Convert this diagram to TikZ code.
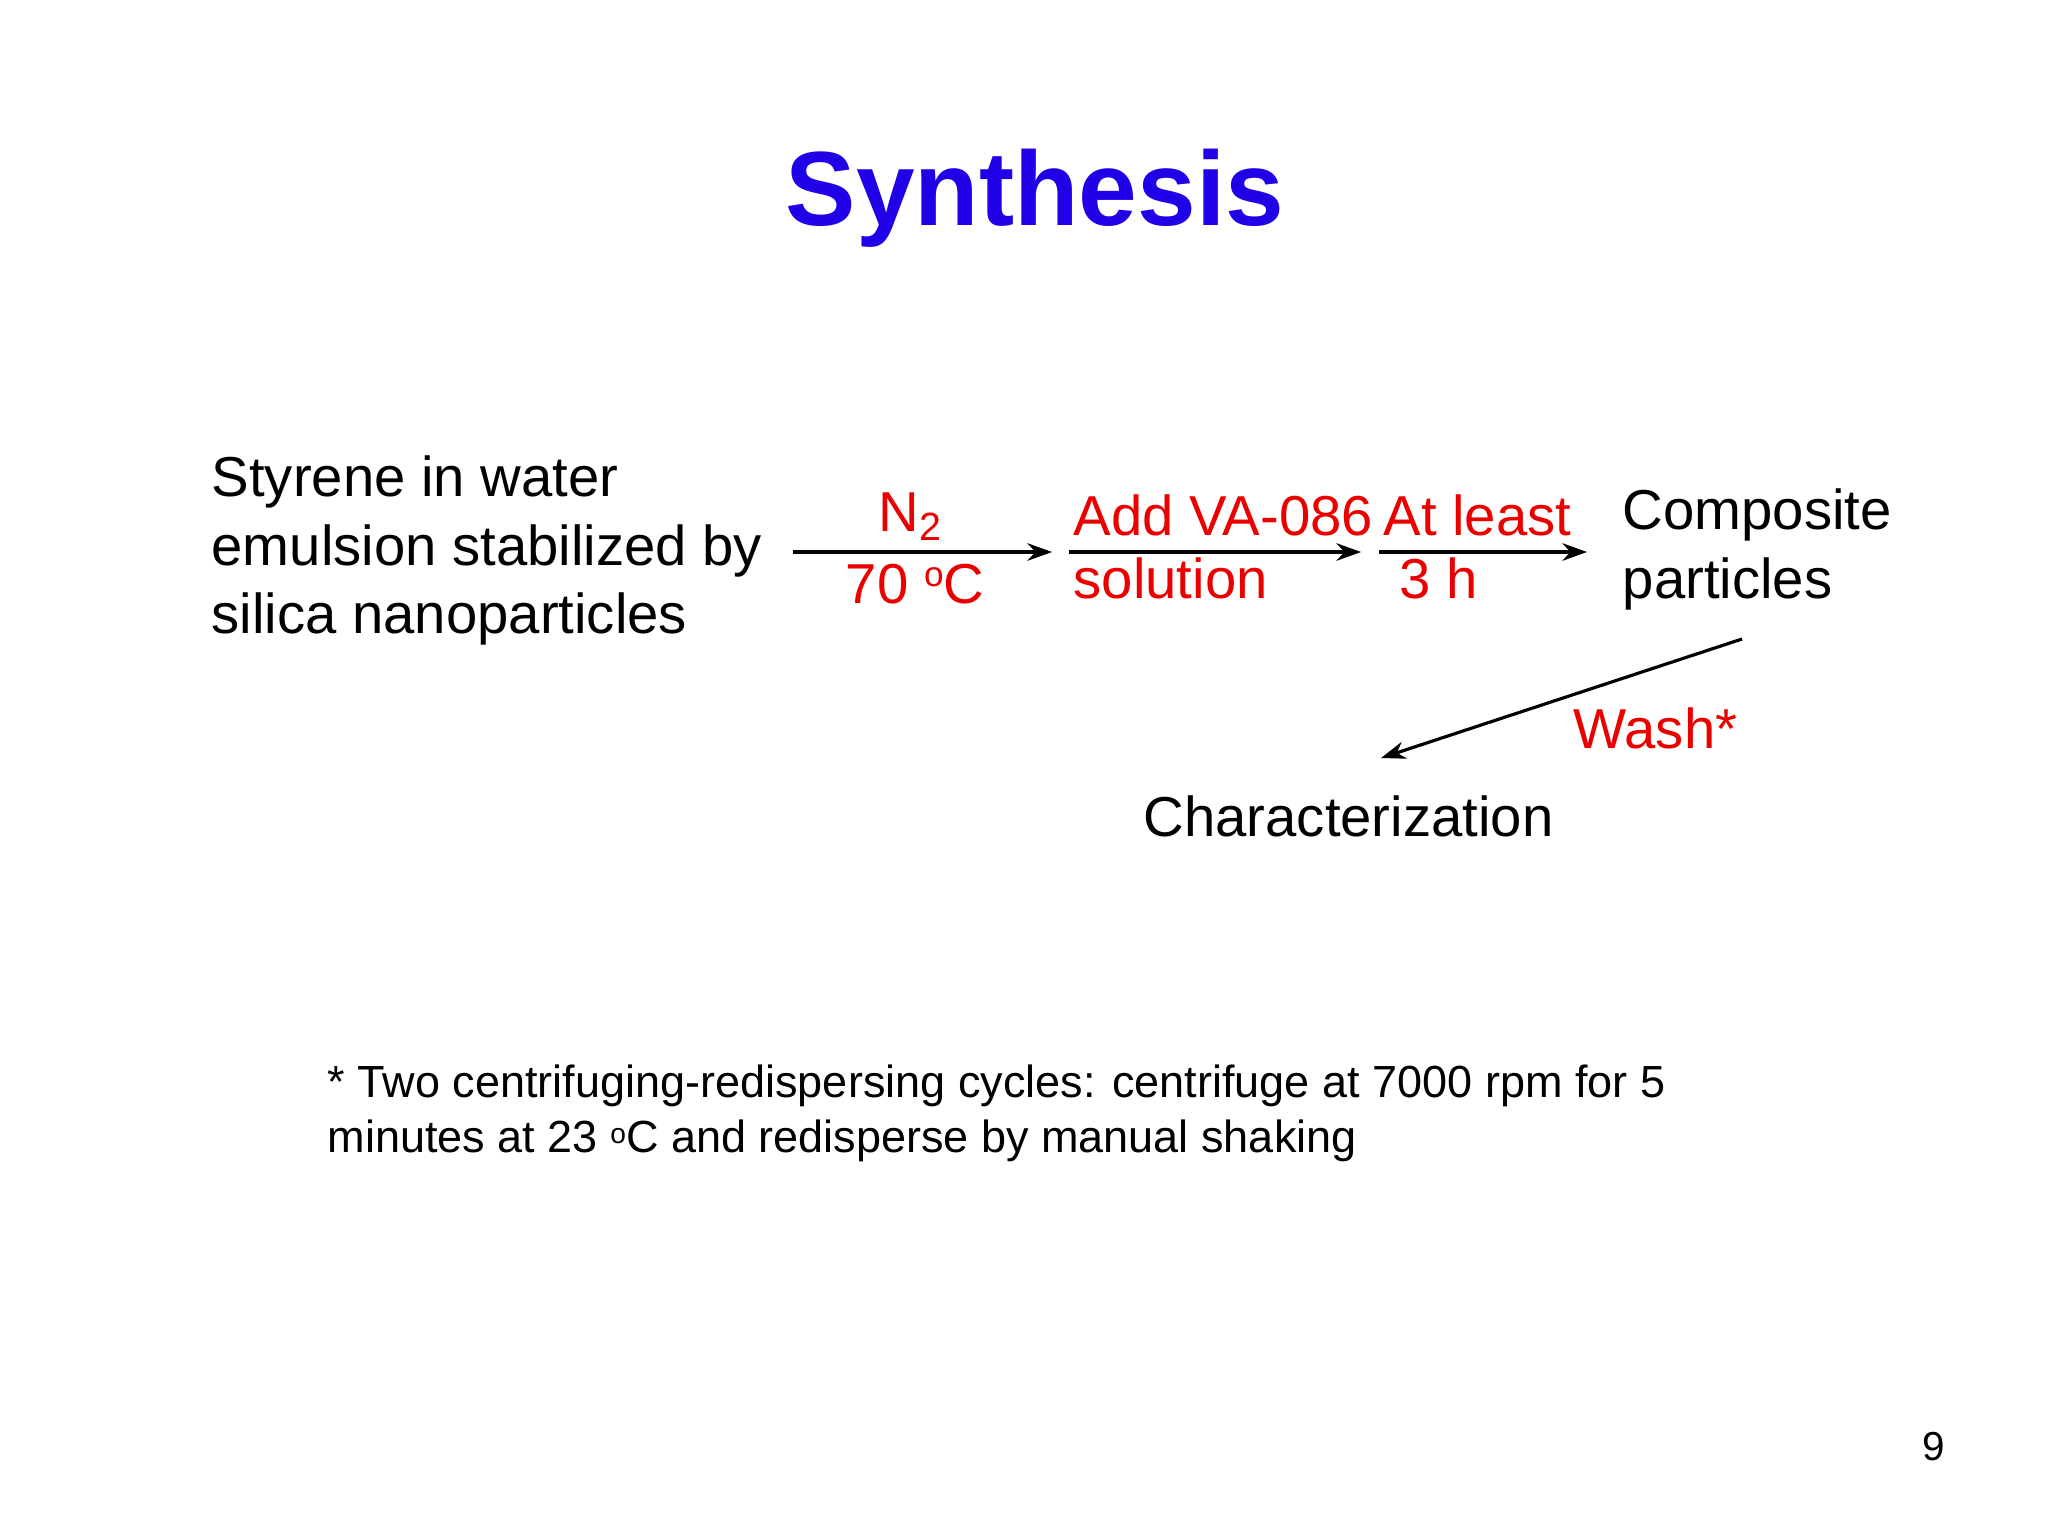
\documentclass[tikz,border=0pt]{standalone}
\usepackage{fontspec}
\setmainfont{Liberation Sans}
\usetikzlibrary{arrows.meta}
\definecolor{ttl}{RGB}{32,0,230}
\definecolor{rd}{RGB}{235,0,0}
\newcommand{\degsup}{\raisebox{0.55ex}{\fontsize{10}{10}\selectfont o}}
\tikzset{
 body/.style={font=\fontsize{16}{19}\selectfont,inner sep=0pt,anchor=base west,align=left},
 lab/.style={body,text=rd},
 arr/.style={line width=0.9pt,-{Stealth[length=7pt,width=5pt]}}
}
\begin{document}
\begin{tikzpicture}[x=0.01cm,y=-0.01cm]
\useasboundingbox[fill=white] (0,0) rectangle (2048,1536);
\node[inner sep=0pt,anchor=base,text=ttl,font=\fontsize{30}{34}\selectfont\bfseries] (title) at (1035,225) {Synthesis};
\node[body] (s1) at (211,496) {Styrene in water};
\node[body] (s2) at (211,565) {emulsion stabilized by};
\node[body] (s3) at (211,633) {silica nanoparticles};
\coordinate (a1s) at (793,552); \coordinate (a1e) at (1052,552);
\coordinate (a2s) at (1069,552); \coordinate (a2e) at (1361,552);
\coordinate (a3s) at (1379,552); \coordinate (a3e) at (1587,552);
\draw[arr] (a1s) -- (a1e);
\draw[arr] (a2s) -- (a2e);
\draw[arr] (a3s) -- (a3e);
\node[lab,anchor=base] (n2) at (911,531) {N\textsubscript{2}};
\node[lab,anchor=base] (t70) at (915,603) {70 \degsup C};
\node[lab] (va) at (1073,535) {Add VA-086};
\node[lab] (sol) at (1073,598) {solution};
\node[lab] (atl) at (1383,535) {At least};
\node[lab] (h3) at (1399,598) {3 h};
\node[body] (c1) at (1622,529) {Composite};
\node[body] (c2) at (1622,598) {particles};
\coordinate (ds) at (1742,639); \coordinate (de) at (1381,758);
\draw[arr] (ds) -- (de);
\node[lab,anchor=base east] (wash) at (1738,748) {Wash*};
\node[body] (char) at (1143,836) {Characterization};
\node[body,font=\fontsize{12.8}{15}\selectfont] (f1) at (327,1097) {* Two centrifuging-redispersing cycles: centrifuge at 7000 rpm for 5};
\node[body,font=\fontsize{12.8}{15}\selectfont] (f2) at (327,1152) {minutes at 23 {\fontsize{8}{8}\selectfont\raisebox{0.55ex}{o}}C and redisperse by manual shaking};
\node[body,anchor=base,font=\fontsize{11.5}{14}\selectfont] (pg) at (1934,1460) {9};
\end{tikzpicture}
\end{document}
